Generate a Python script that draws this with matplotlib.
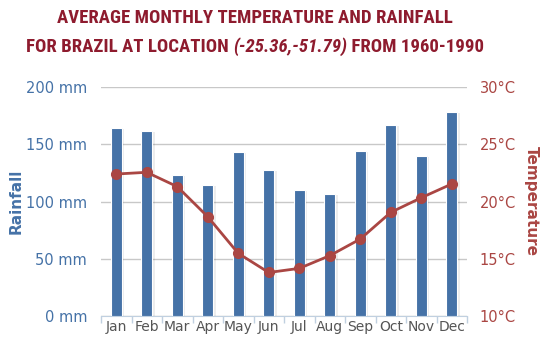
import matplotlib
matplotlib.use("Agg")
import matplotlib.pyplot as plt
import numpy as np
from matplotlib import font_manager as fm

months = ["Jan", "Feb", "Mar", "Apr", "May", "Jun", "Jul", "Aug", "Sep", "Oct", "Nov", "Dec"]
rainfall = [163.9, 161.6, 123.1, 114.4, 143.0, 127.5, 110.0, 106.6, 144.1, 166.8, 139.5, 177.9]
temperature = [22.4, 22.55, 21.3, 18.67, 15.47, 13.8, 14.16, 15.27, 16.72, 19.05, 20.33, 21.53]
rain_ticks = [0, 50, 100, 150, 200]
temp_ticks = [10, 15, 20, 25, 30]

BLUE = "#4572A7"
RED = "#AA4643"
TITLE = "#8E1B2E"

# pick a condensed font if one is installed
cond_font = None
stretch = "normal"
names = {f.name for f in fm.fontManager.ttflist}
for cand in ["Liberation Sans Narrow", "Roboto Condensed", "Open Sans Condensed", "DejaVu Sans Condensed", "Noto Sans Condensed"]:
    if cand in names:
        cond_font = cand
        break
if cond_font is None:
    for f in fm.fontManager.ttflist:
        if f.name in ("DejaVu Sans", "Noto Sans", "Open Sans", "Roboto") and str(f.stretch) in ("condensed", "semi-condensed", "75", "87", "62"):
            cond_font = f.name
            stretch = f.stretch
            break
if cond_font is None:
    cond_font = "Liberation Sans"

fig = plt.figure(figsize=(5.57, 3.55), dpi=100)
ax = fig.add_axes([101/557, 1-316/355, (467-101)/557, (316-87)/355])
ax2 = ax.twinx()

x = np.arange(len(months))
ax.bar(x + 0.07, np.array(rainfall) - 1, width=0.38, color="#000000", alpha=0.07, zorder=2)
ax.bar(x, rainfall, width=0.36, color=BLUE, edgecolor="white", linewidth=0.8, zorder=3)
ax.set_ylim(0, 200)
ax.set_xlim(-0.5, 11.5)
ax.set_yticks(rain_ticks)
ax.set_yticklabels([f"{v} mm" for v in rain_ticks], color=BLUE, fontsize=10.5)
ax.yaxis.grid(True, color="#C8C8C8", linewidth=1)
ax.set_axisbelow(True)
ax.tick_params(axis="y", length=0, pad=10)
ax.set_xticks(x)
ax.set_xticklabels(months, color="#555555", fontsize=10)
ax.set_xticks(np.arange(-0.5, 12, 1), minor=True)
ax.tick_params(axis="x", which="major", length=0, pad=3)
ax.tick_params(axis="x", which="minor", length=5, color="#C0D0E0", width=1)
for s in ["top", "left", "right"]:
    ax.spines[s].set_visible(False)
    ax2.spines[s].set_visible(False)
ax.spines["bottom"].set_color("#C0D0E0")
ax2.spines["bottom"].set_visible(False)
ax.set_ylabel("Rainfall", color=BLUE, fontsize=11, fontweight="bold", va="center")
ax.yaxis.set_label_coords((16 - 101) / 366, 0.5)

ax2.plot(x, temperature, color=RED, linewidth=2, marker="o", markersize=7, zorder=5)
ax2.set_ylim(10, 30)
ax2.set_yticks(temp_ticks)
ax2.set_yticklabels([f"{v}°C" for v in temp_ticks], color=RED, fontsize=10.5)
ax2.tick_params(axis="y", length=0, pad=9)
ax2.set_ylabel("Temperature", color=RED, fontsize=11, fontweight="bold", rotation=270, va="center")
ax2.yaxis.set_label_coords((531 - 101) / 366, 0.5)

# Title: fit widths to reference
renderer = fig.canvas.get_renderer()
tkw = dict(color=TITLE, fontweight="bold", family=cond_font, fontstretch=stretch, va="center")

line1 = "AVERAGE MONTHLY TEMPERATURE AND RAINFALL"
t1 = fig.text(255/557, 1-18/355, line1, ha="center", fontsize=14, **tkw)
w = t1.get_window_extent(renderer).width
fs1 = min(15, 14 * 366 / w * 1.08)
t1.set_fontsize(fs1)

parts = [("FOR BRAZIL AT LOCATION ", "normal"), ("(-25.36,-51.79)", "italic"), (" FROM 1960-1990", "normal")]
texts = []
for s, st in parts:
    texts.append(fig.text(0, 1-47/355, s, ha="left", fontsize=fs1, style=st, **tkw))
total = sum(t.get_window_extent(renderer).width for t in texts)
fs2 = fs1
if total > 465:
    fs2 = fs1 * 465 / total
    for t in texts:
        t.set_fontsize(fs2)
    total = sum(t.get_window_extent(renderer).width for t in texts)
xpos = 255 - total / 2
for t in texts:
    t.set_x(xpos / 557)
    xpos += t.get_window_extent(renderer).width

fig.savefig("out.png", dpi=100)
